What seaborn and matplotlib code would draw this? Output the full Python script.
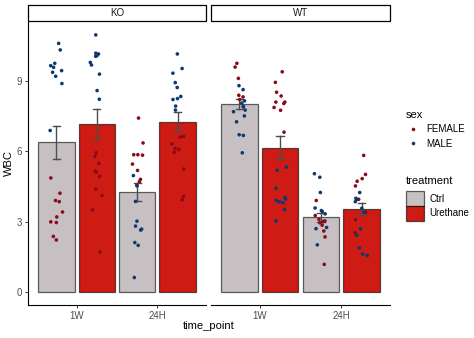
import numpy as np
import pandas as pd
import matplotlib
matplotlib.use("Agg")
import matplotlib.pyplot as plt
import matplotlib.transforms as mtransforms
from matplotlib.patches import Rectangle, Patch
from matplotlib.lines import Line2D
import seaborn as sns

# ---- categories ----
genotypes = ["KO", "WT"]
time_points = ["1W", "24H"]
treatments = ["Ctrl", "Urethane"]
sexes = ["FEMALE", "MALE"]

# ---- WBC counts per animal ----
ko_1w_ctrl_female = [4.86, 4.21, 3.90, 3.85, 3.41, 3.20, 2.96, 2.99, 2.37, 2.22]
ko_1w_ctrl_male = [10.59, 10.31, 9.74, 9.64, 9.57, 9.43, 9.36, 9.19, 8.88, 6.88]
ko_1w_ure_female = [5.93, 5.78, 5.48, 5.15, 5.11, 4.92, 4.38, 4.11, 3.50, 1.71]
ko_1w_ure_male = [10.95, 10.17, 10.14, 10.07, 10.04, 9.78, 9.67, 9.28, 8.58, 8.21]
ko_24h_ctrl_female = [7.41, 6.35, 5.85, 5.85, 5.83, 5.45, 5.18, 4.80, 4.70, 4.55]
ko_24h_ctrl_male = [4.96, 4.52, 3.86, 3.02, 2.81, 2.68, 2.64, 2.11, 1.99, 0.62]
ko_24h_ure_female = [6.63, 6.60, 6.31, 6.12, 6.07, 5.95, 5.24, 4.07, 3.93]
ko_24h_ure_male = [10.14, 9.52, 9.32, 8.92, 8.71, 8.33, 8.24, 8.20, 7.92, 7.75]
wt_1w_ctrl_female = [9.74, 9.58, 9.10, 8.38, 8.31, 7.89, 8.20]
wt_1w_ctrl_male = [8.79, 8.62, 8.14, 8.05, 7.90, 7.75, 7.68, 7.50, 7.25, 6.70, 6.67, 5.93]
wt_1w_ure_female = [9.38, 8.93, 8.51, 8.35, 8.09, 8.03, 8.09, 7.86, 7.74, 6.81]
wt_1w_ure_male = [5.32, 5.19, 4.42, 4.03, 3.96, 3.90, 3.85, 3.80, 3.51, 3.03]
wt_24h_ctrl_female = [3.90, 3.00, 3.26, 3.10, 3.03, 2.95, 2.85, 2.60, 2.35, 1.18]
wt_24h_ctrl_male = [5.04, 4.89, 4.24, 3.58, 3.47, 3.43, 3.33, 2.75, 2.70, 2.01]
wt_24h_ure_female = [5.82, 5.01, 4.83, 4.72, 4.52, 3.95, 3.40, 3.08, 2.53]
wt_24h_ure_male = [4.24, 3.99, 3.95, 3.85, 3.57, 3.40, 2.69, 2.42, 1.88, 1.62, 1.56]

groups = [
    ("KO", "1W", "Ctrl", "FEMALE", ko_1w_ctrl_female),
    ("KO", "1W", "Ctrl", "MALE", ko_1w_ctrl_male),
    ("KO", "1W", "Urethane", "FEMALE", ko_1w_ure_female),
    ("KO", "1W", "Urethane", "MALE", ko_1w_ure_male),
    ("KO", "24H", "Ctrl", "FEMALE", ko_24h_ctrl_female),
    ("KO", "24H", "Ctrl", "MALE", ko_24h_ctrl_male),
    ("KO", "24H", "Urethane", "FEMALE", ko_24h_ure_female),
    ("KO", "24H", "Urethane", "MALE", ko_24h_ure_male),
    ("WT", "1W", "Ctrl", "FEMALE", wt_1w_ctrl_female),
    ("WT", "1W", "Ctrl", "MALE", wt_1w_ctrl_male),
    ("WT", "1W", "Urethane", "FEMALE", wt_1w_ure_female),
    ("WT", "1W", "Urethane", "MALE", wt_1w_ure_male),
    ("WT", "24H", "Ctrl", "FEMALE", wt_24h_ctrl_female),
    ("WT", "24H", "Ctrl", "MALE", wt_24h_ctrl_male),
    ("WT", "24H", "Urethane", "FEMALE", wt_24h_ure_female),
    ("WT", "24H", "Urethane", "MALE", wt_24h_ure_male),
]
rows = [
    {"genotype": g, "time_point": t, "treatment": tr, "sex": s, "WBC": v}
    for g, t, tr, s, vals in groups for v in vals
]
df = pd.DataFrame(rows)

bar_colors = {"Ctrl": "#C6C0C2", "Urethane": "#CE1B14"}
sex_colors = {"FEMALE": "#8A0A1C", "MALE": "#0B3A70"}
edge = (0, 0, 0, 0.6)

plt.rcParams["font.family"] = ["Liberation Sans", "DejaVu Sans"]
W, H = 474, 338
fig = plt.figure(figsize=(W / 100, H / 100), dpi=100)


def px_axes(left, top, right, bottom):
    return fig.add_axes([left / W, 1 - bottom / H, (right - left) / W, (bottom - top) / H])


axes = {"KO": px_axes(28, 22, 206, 305), "WT": px_axes(211, 22, 390, 305)}
np.random.seed(7)

for g, ax in axes.items():
    sub = df[df["genotype"] == g]
    sns.barplot(
        data=sub, x="time_point", y="WBC", hue="treatment",
        order=time_points, hue_order=treatments, palette=bar_colors,
        saturation=1, width=1.0, gap=0.1, errorbar="se", capsize=0.18,
        err_kws={"color": "#4D4D4D", "linewidth": 1.0},
        edgecolor=edge, linewidth=0.9, ax=ax, legend=False,
    )
    # jittered animals, shifted onto their treatment's bar
    for k, tr in enumerate(treatments):
        shift = (k - 0.5) * 0.5
        tf = mtransforms.Affine2D().translate(shift, 0) + ax.transData
        sns.stripplot(
            data=sub[sub["treatment"] == tr], x="time_point", y="WBC", hue="sex",
            order=time_points, hue_order=sexes, palette=sex_colors,
            jitter=0.08, size=2.6, linewidth=0, transform=tf,
            ax=ax, legend=False, zorder=3,
        )
    ax.set_xlim(-0.6, 1.6)
    ax.set_ylim(-0.55, 11.5)
    ax.set_yticks([0, 3, 6, 9])
    ax.set_xlabel("")
    ax.set_ylabel("")
    for s in ["top", "right"]:
        ax.spines[s].set_visible(False)
    for s in ["left", "bottom"]:
        ax.spines[s].set_color("black")
        ax.spines[s].set_linewidth(0.8)
    ax.tick_params(axis="both", length=2.5, width=0.7, color="#333333",
                   labelcolor="#4D4D4D", labelsize=7, pad=2)
    # facet strip
    ax.add_patch(Rectangle((0, 1.0053), 1, 0.0565, transform=ax.transAxes,
                           facecolor="white", edgecolor="black", linewidth=0.9,
                           clip_on=False))
    ax.text(0.5, 1.0335, g, transform=ax.transAxes, ha="center", va="center",
            fontsize=7, color="#1A1A1A")

axes["WT"].spines["left"].set_visible(False)
axes["WT"].tick_params(axis="y", left=False, labelleft=False)

fig.text(9 / W, 1 - 163.5 / H, "WBC", rotation=90, ha="center", va="center", fontsize=8)
fig.text(209 / W, 1 - 326 / H, "time_point", ha="center", va="center", fontsize=8)

sex_handles = [Line2D([], [], marker="o", linestyle="", markersize=2.6,
                      markerfacecolor=sex_colors[s], markeredgewidth=0) for s in sexes]
leg1 = fig.legend(sex_handles, sexes, title="sex", loc="upper left",
                  bbox_to_anchor=(397 / W, 1 - 101 / H), frameon=False,
                  fontsize=7, title_fontsize=8, handlelength=1.4,
                  handletextpad=0.7, labelspacing=0.45)
leg1._legend_box.align = "left"

tr_handles = [Patch(facecolor=bar_colors[t], edgecolor=edge, linewidth=0.9) for t in treatments]
leg2 = fig.legend(tr_handles, treatments, title="treatment", loc="upper left",
                  bbox_to_anchor=(397 / W, 1 - 167 / H), frameon=False,
                  fontsize=7, title_fontsize=8, handlelength=1.9, handleheight=1.9,
                  handletextpad=0.5, labelspacing=0.05)
leg2._legend_box.align = "left"
leg2._legend_box.sep = 4

fig.savefig("out.png", dpi=100)
